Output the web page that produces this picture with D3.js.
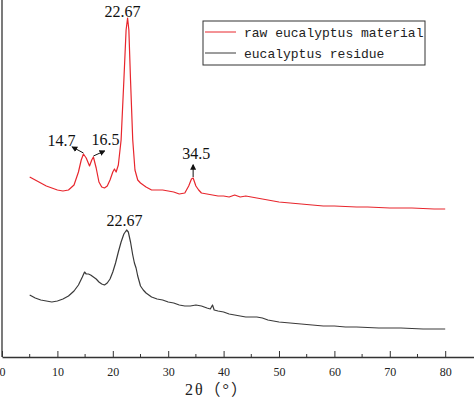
<!DOCTYPE html>
<html>
<head>
<meta charset="utf-8">
<script src="https://cdn.jsdelivr.net/npm/d3@7"></script>
<style>
  body { margin: 0; background: #fff; }
  svg text { font-family: "Liberation Serif", "DejaVu Serif", serif; }
</style>
</head>
<body>
<div id="mydiv"></div>
<script>
// 2theta positions (deg) and intensities (a.u.)
var rawTheta = [5,6,7,8,9,10,11,12,13,13.8,14.3,14.7,15.2,15.8,16.2,16.5,17,17.5,18,18.5,19,19.5,20,20.3,20.6,21,21.5,22,22.4,22.67,22.9,23.2,23.6,24,24.5,25,26,27,28,29,30,31,32,33,33.7,34.2,34.5,35,35.5,36,37,38,39,40,41,42,43,44,45,46,48,50,52,54,56,58,60,62,64,66,68,70,72,74,76,78,80];
var rawInt = [1800,1770,1740,1710,1690,1670,1660,1670,1720,1850,1970,2030,1990,1910,1970,2000,1890,1750,1700,1690,1710,1770,1850,1880,1850,1920,2170,2770,3270,3390,3270,2770,2170,1870,1770,1740,1700,1670,1670,1670,1660,1650,1630,1640,1710,1780,1790,1710,1670,1640,1630,1620,1610,1610,1600,1620,1600,1610,1600,1590,1570,1550,1540,1530,1520,1510,1510,1505,1500,1500,1495,1490,1490,1490,1485,1480,1480];

var resTheta = [5,6,7,8,9,10,11,12,13,13.8,14.5,14.9,15.2,15.6,16,16.5,17,17.5,18,18.5,19,19.5,20,20.5,21,21.5,22,22.5,22.8,23.2,23.6,23.9,24.2,24.5,25,25.5,26,27,28,29,30,31,32,33,34,35,36,37,37.6,38,38.3,39,40,41,42,43,44,45,46,47,48,50,52,54,56,58,60,62,64,66,68,70,72,74,76,78,80];
var resInt = [620,590,570,560,550,560,580,610,660,720,800,850,830,830,820,800,780,750,730,720,740,780,850,940,1050,1150,1230,1270,1250,1150,1020,940,890,810,710,670,640,600,580,570,550,540,520,510,510,520,510,490,480,520,470,460,450,430,420,410,400,400,400,390,370,350,340,330,320,310,310,300,300,295,290,290,290,285,280,280,280];

var seriesNames = ["raw eucalyptus material", "eucalyptus residue"];
var seriesColors = ["#e8262d", "#3a3a3a"];
var xTicks = [0,10,20,30,40,50,60,70,80];

// peak labels: [series index, 2theta, label]
var peakLabels = [
  [0, 22.67, "22.67"],
  [0, 14.7, "14.7"],
  [0, 16.5, "16.5"],
  [0, 34.5, "34.5"],
  [1, 22.67, "22.67"]
];

var W = 474, H = 398;
var margin = {top: 0, right: 0, bottom: 41, left: 2};
var width = W - margin.left - margin.right,
    height = H - margin.top - margin.bottom;

var svg = d3.select("#mydiv").append("svg")
  .attr("width", W).attr("height", H)
  .append("g")
  .attr("transform", "translate(" + margin.left + "," + margin.top + ")");

var x = d3.scaleLinear().domain([0, 85.2]).range([0, width]);
var y = d3.scaleLinear().domain([0, 3570]).range([height, 0]);

var raw = rawTheta.map(function(t, i) { return {t: t, v: rawInt[i]}; });
var res = resTheta.map(function(t, i) { return {t: t, v: resInt[i]}; });
var allSeries = [raw, res];

var line = d3.line()
  .x(function(d) { return x(d.t); })
  .y(function(d) { return y(d.v); });

allSeries.forEach(function(s, i) {
  svg.append("path")
    .datum(s)
    .attr("fill", "none")
    .attr("stroke", seriesColors[i])
    .attr("stroke-width", 1.2)
    .attr("stroke-linejoin", "round")
    .attr("d", line);
});

// x axis, ticks pointing inward
var xAxis = svg.append("g")
  .attr("transform", "translate(0," + height + ")")
  .call(d3.axisBottom(x).tickValues(xTicks).tickSize(-6).tickPadding(10).tickSizeOuter(0));
xAxis.selectAll("text").attr("font-size", 12).attr("fill", "#222")
  .style("font-family", "'Liberation Serif', serif");
xAxis.select(".domain").attr("stroke", "#333").attr("stroke-width", 1.3);
xAxis.selectAll(".tick line").attr("stroke", "#333");

// minor ticks
svg.append("g").selectAll("line")
  .data(d3.range(5, 85, 10))
  .enter().append("line")
  .attr("x1", function(d) { return x(d); })
  .attr("x2", function(d) { return x(d); })
  .attr("y1", height)
  .attr("y2", height - 3)
  .attr("stroke", "#333");

// left axis line
svg.append("line")
  .attr("x1", 0).attr("x2", 0)
  .attr("y1", 0).attr("y2", height)
  .attr("stroke", "#333").attr("stroke-width", 1.3);

svg.append("text")
  .attr("x", x(38.8)).attr("y", H - 3)
  .attr("text-anchor", "middle")
  .attr("font-size", 16)
  .attr("letter-spacing", 2)
  .attr("fill", "#222")
  .style("font-family", "'Liberation Serif', 'Noto Sans CJK SC', serif")
  .text("2θ（°）");

// peak labels
function valAt(s, t) {
  var best = s[0];
  s.forEach(function(d) { if (Math.abs(d.t - t) < Math.abs(best.t - t)) best = d; });
  return best.v;
}
// [label dx, label dy, arrow dx, arrow dy] in px
var labelOffset = {
  "0-22.67": [-5, -1, 0, 0],
  "0-14.7": [-22, -8, -11, -7],
  "0-16.5": [12, -12, 11, -6],
  "0-34.5": [3, -19, 0, -13],
  "1-22.67": [-3, -6, 0, 0]
};

svg.append("defs").append("marker")
  .attr("id", "arr")
  .attr("viewBox", "0 0 10 10")
  .attr("refX", 8).attr("refY", 5)
  .attr("markerWidth", 6).attr("markerHeight", 6)
  .attr("orient", "auto")
  .append("path").attr("d", "M0,0L10,5L0,10z").attr("fill", "#111");

peakLabels.forEach(function(p) {
  var s = allSeries[p[0]];
  var px = x(p[1]), py = y(valAt(s, p[1]));
  var off = labelOffset[p[0] + "-" + p[1]];
  svg.append("text")
    .attr("x", px + off[0]).attr("y", py + off[1])
    .attr("text-anchor", "middle")
    .attr("font-size", 16)
    .attr("fill", "#111")
    .text(p[2]);
  if (off[2] !== 0 || off[3] !== 0) {
    svg.append("line")
      .attr("x1", px).attr("y1", py - 1)
      .attr("x2", px + off[2]).attr("y2", py + off[3])
      .attr("stroke", "#111").attr("stroke-width", 1)
      .attr("marker-end", "url(#arr)");
  }
});

// legend
var lg = svg.append("g").attr("transform", "translate(" + (203 - margin.left) + ",21)");
lg.append("rect").attr("width", 222).attr("height", 44)
  .attr("fill", "#fff").attr("stroke", "#333").attr("stroke-width", 1);
seriesNames.forEach(function(n, i) {
  lg.append("line")
    .attr("x1", 2).attr("x2", 33)
    .attr("y1", 11 + i * 21).attr("y2", 11 + i * 21)
    .attr("stroke", seriesColors[i]).attr("stroke-width", 1);
  lg.append("text")
    .attr("x", 41).attr("y", 16 + i * 21)
    .attr("font-size", 13)
    .attr("fill", "#222")
    .style("font-family", "'Liberation Mono', monospace")
    .text(n);
});
</script>
</body>
</html>
